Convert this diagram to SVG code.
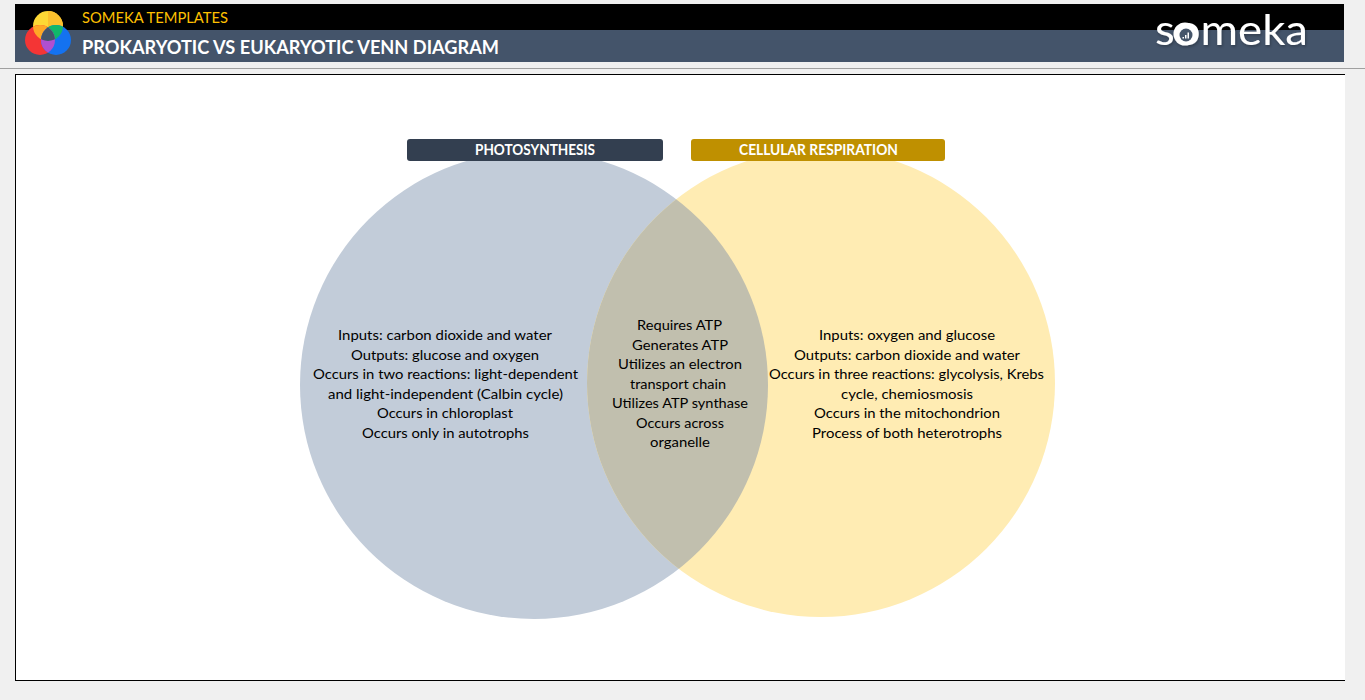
<svg xmlns="http://www.w3.org/2000/svg" width="1365" height="700" viewBox="0 0 1365 700">
<style>
text{font-family:Lato,"Open Sans","Liberation Sans",sans-serif}
.b{font-size:14.2px;fill:#000;text-anchor:middle}
.h{font-size:14.2px;font-weight:700;fill:#fff;text-anchor:middle}
</style>
<defs>
<clipPath id="cl"><circle cx="534" cy="385" r="234"/></clipPath>
<clipPath id="cy"><circle cx="48" cy="26" r="15"/></clipPath>
<clipPath id="cr"><circle cx="40" cy="40" r="15"/></clipPath>
<clipPath id="cb"><circle cx="56" cy="40" r="15"/></clipPath>
<filter id="sh" x="-10%" y="-20%" width="120%" height="150%"><feDropShadow dx="1" dy="1.500" stdDeviation="1.500" flood-color="#000" flood-opacity=".3"/></filter>
</defs>
<rect width="1365" height="700" fill="#f0f0f0"/>
<g id="header">
<rect x="15" y="4" width="1329" height="26" fill="#000"/>
<rect x="15" y="30" width="1329" height="32" fill="#44546a"/>
<rect x="0" y="68" width="1365" height="1" fill="#a0a0a0"/>
<text x="82" y="23" font-size="15.500" fill="#ffc000" textLength="146" lengthAdjust="spacingAndGlyphs">SOMEKA TEMPLATES</text>
<text x="82" y="53.500" font-size="19" font-weight="700" fill="#fff" textLength="417" lengthAdjust="spacingAndGlyphs">PROKARYOTIC VS EUKARYOTIC VENN DIAGRAM</text>
</g>
<g id="logo">
<circle cx="48" cy="26" r="15" fill="#fdd835"/>
<path d="M48 11a15 15 0 0 1 0 30z" fill="#fbc02d"/>
<circle cx="40" cy="40" r="15" fill="#f43535"/>
<circle cx="56" cy="40" r="15" fill="#1472f0"/>
<g clip-path="url(#cy)"><circle cx="40" cy="40" r="15" fill="#ffa726"/><circle cx="56" cy="40" r="15" fill="#10b86a"/></g>
<g clip-path="url(#cr)"><circle cx="56" cy="40" r="15" fill="#b04fd0"/></g>
<g clip-path="url(#cy)"><g clip-path="url(#cr)"><circle cx="56" cy="40" r="15" fill="#44546a"/></g></g>
</g>
<g id="brand" filter="url(#sh)">
<text x="1231.500" y="45" font-size="42" font-weight="400" fill="#fff" text-anchor="middle" textLength="153" lengthAdjust="spacingAndGlyphs">someka</text>
<circle cx="1185" cy="34" r="11.500" fill="#fff"/>
<circle cx="1186" cy="35" r="6.500" fill="#44546a"/>
<path d="M1182.500 37h1.500v1.500h-1.500zM1185 35h1.500v3.500h-1.500zM1187.500 32.500h1.500v6h-1.500z" fill="#fff"/>
</g>
<rect id="canvas" x="15.500" y="74.500" width="1330" height="606" fill="#fff" stroke="#000"/>
<rect x="1345" y="74" width="20" height="608" fill="#f0f0f0"/>
<g id="photosynthesis">
<circle cx="534" cy="385" r="234" fill="#c2ccd9"/>
<rect x="407" y="139" width="256" height="22" rx="3" fill="#333f50"/>
</g>
<g id="respiration">
<path d="M821 149a234 234 0 0 1 0 468a234 234 0 0 1 0-468z" fill="#ffecb3"/>
<circle cx="821" cy="383" r="234" fill="#c1bfae" clip-path="url(#cl)"/>
<rect x="691" y="139" width="254" height="22" rx="3" fill="#bf9000"/>
</g>
<text class="h" x="535" y="155" textLength="120" lengthAdjust="spacingAndGlyphs">PHOTOSYNTHESIS</text>
<text class="h" x="818.500" y="155" textLength="159" lengthAdjust="spacingAndGlyphs">CELLULAR RESPIRATION</text>
<g id="left-text">
<text class="b" x="445" y="340" textLength="214" lengthAdjust="spacingAndGlyphs">Inputs: carbon dioxide and water</text>
<text class="b" x="445" y="360" textLength="188" lengthAdjust="spacingAndGlyphs">Outputs: glucose and oxygen</text>
<text class="b" x="445.500" y="379" textLength="265" lengthAdjust="spacingAndGlyphs">Occurs in two reactions: light-dependent</text>
<text class="b" x="445.500" y="399" textLength="235" lengthAdjust="spacingAndGlyphs">and light-independent (Calbin cycle)</text>
<text class="b" x="445" y="418" textLength="136" lengthAdjust="spacingAndGlyphs">Occurs in chloroplast</text>
<text class="b" x="445.500" y="438" textLength="167" lengthAdjust="spacingAndGlyphs">Occurs only in autotrophs</text>
</g>
<g id="center-text">
<text class="b" x="679.500" y="330" textLength="85" lengthAdjust="spacingAndGlyphs">Requires ATP</text>
<text class="b" x="680" y="350" textLength="96" lengthAdjust="spacingAndGlyphs">Generates ATP</text>
<text class="b" x="680" y="369" textLength="124" lengthAdjust="spacingAndGlyphs">Utilizes an electron</text>
<text class="b" x="678" y="389" textLength="96" lengthAdjust="spacingAndGlyphs">transport chain</text>
<text class="b" x="680" y="408" textLength="136" lengthAdjust="spacingAndGlyphs">Utilizes ATP synthase</text>
<text class="b" x="680" y="428" textLength="88" lengthAdjust="spacingAndGlyphs">Occurs across</text>
<text class="b" x="680" y="447" textLength="60" lengthAdjust="spacingAndGlyphs">organelle</text>
</g>
<g id="right-text">
<text class="b" x="907" y="340" textLength="176" lengthAdjust="spacingAndGlyphs">Inputs: oxygen and glucose</text>
<text class="b" x="907" y="360" textLength="226" lengthAdjust="spacingAndGlyphs">Outputs: carbon dioxide and water</text>
<text class="b" x="906.500" y="379" textLength="275" lengthAdjust="spacingAndGlyphs">Occurs in three reactions: glycolysis, Krebs</text>
<text class="b" x="907" y="399" textLength="132" lengthAdjust="spacingAndGlyphs">cycle, chemiosmosis</text>
<text class="b" x="907" y="418" textLength="186" lengthAdjust="spacingAndGlyphs">Occurs in the mitochondrion</text>
<text class="b" x="907" y="438" textLength="190" lengthAdjust="spacingAndGlyphs">Process of both heterotrophs</text>
</g>
</svg>
